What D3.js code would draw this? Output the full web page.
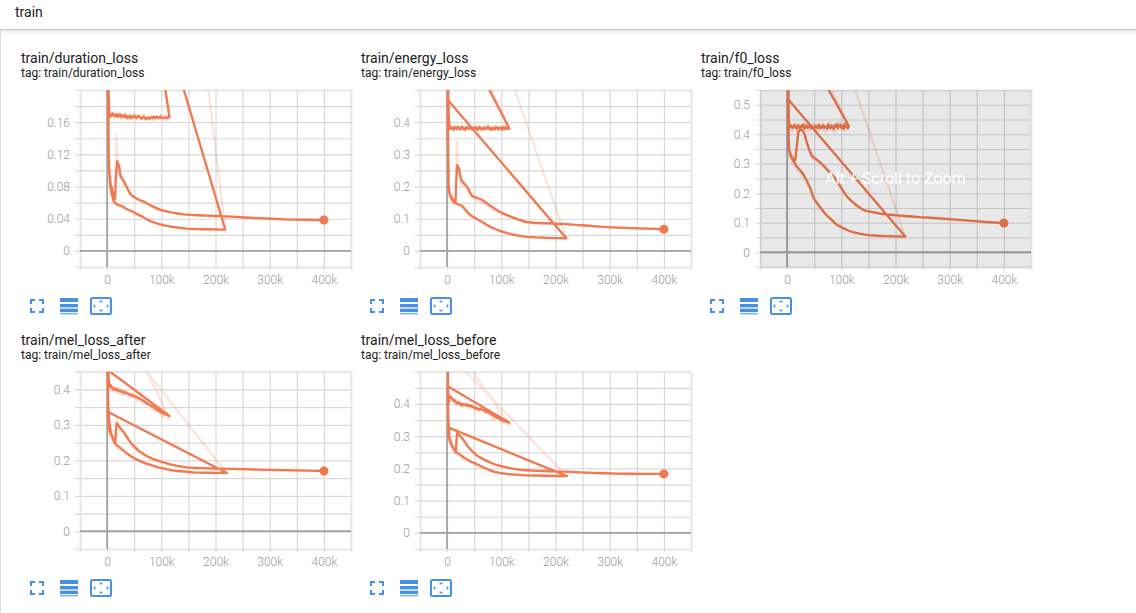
<!DOCTYPE html>
<html>
<head>
<meta charset="utf-8">
<script src="https://cdn.jsdelivr.net/npm/d3@7"></script>
<style>
html,body{margin:0;padding:0;background:#fff;overflow:hidden}
svg{display:block}
text{font-family:Roboto,"Liberation Sans",sans-serif}
</style>
</head>
<body>
<svg id="c" width="1136" height="613"></svg>
<script>
const pageTitle = "train";
const xGrid = [-50,0,50,100,150,200,250,300,350,400,450];
const xLabels = [0,100,200,300,400];

// [step in thousands, loss]. Smoothed line, three training runs in log order.
const durationLine = [[1,.7],[2,.26],[3,.19],[4,.172],[6,.167],[8,.169],[10,.171],[12,.168],[14,.169],[16,.167],[18,.17],[20,.167],[22,.168],[24,.17],[26,.166],[28,.168],[30,.167],[32,.169],[34,.166],[36,.168],[38,.165],[40,.167],[42,.168],[44,.165],[46,.166],[48,.168],[50,.166],[52,.167],[54,.165],[56,.167],[58,.168],[60,.166],[62,.166],[64,.164],[66,.166],[68,.167],[70,.165],[72,.164],[74,.166],[76,.165],[78,.164],[80,.166],[82,.166],[84,.165],[86,.167],[88,.165],[90,.166],[92,.167],[94,.165],[96,.166],[98,.167],[100,.165],[102,.166],[104,.166],[106,.165],[108,.166],[110,.165],[112,.166],[115,.166],
 [1,.69],[2,.2],[3,.12],[4,.098],[6,.08],[9,.07],[12,.062],[15,.0595],[18,.058],[22,.0565],[27,.0558],[30,.0545],[33,.053],[38,.0515],[45,.0496],[50,.0478],[55,.046],[61,.044],[67,.042],[73,.0395],[80,.037],[88,.035],[98,.033],[108,.0315],[120,.03],[133,.0288],[147,.0277],[165,.0272],[184,.0269],[200,.0267],[218,.0265],
 [1,.52],[2,.2],[3,.12],[4,.1],[6,.085],[9,.078],[12,.068],[14.8,.065],[16,.09],[18.5,.1116],[20,.109],[22,.106],[25,.0926],[28,.09],[31,.0868],[35,.081],[38,.077],[42,.072],[45.5,.069],[50,.067],[55,.065],[61,.063],[67,.0616],[74,.059],[82,.056],[90,.0535],[98,.0513],[108,.0495],[118,.048],[130,.0465],[141,.0455],[155,.0448],[170,.0443],[185,.0438],[202,.0434],[220,.0428],[239,.0422],[255,.0415],[270,.041],[290,.0405],[307,.04],[330,.0393],[350,.039],[375,.0387],[400,.0384]];
const durationRaw = [[1,.9],[2,.3],[3,.2],[4,.175],[6,.171],[8,.165],[11,.173],[13,.164],[16,.172],[19,.166],[22,.171],[24,.164],[27,.17],[30,.163],[33,.172],[37,.165],[40,.163],[43,.17],[47,.164],[51,.171],[55,.163],[59,.169],[63,.165],[67,.17],[71,.162],[75,.168],[80,.169],[85,.162],[90,.168],[95,.164],[100,.17],[104,.163],[108,.169],[112,.163],[115,.166],
 [1,.72],[2,.2],[3,.11],[4,.09],[6,.074],[10,.064],[15,.058],[27,.057],[45,.048],[67,.041],[98,.032],[147,.027],[184,.027],[218,.026],
 [1,1.24],[2,.22],[3,.11],[5,.085],[8,.07],[12,.06],[15,.06],[17,.145],[20,.1],[25,.09],[31,.083],[45,.067],[67,.06],[98,.05],[141,.045],[202,.043],[270,.04],[340,.039],[400,.038]];
const durationGrid = [-.02,0,.02,.04,.06,.08,.1,.12,.14,.16,.18,.2];
const durationLabels = [0,.04,.08,.12,.16];

const energyLine = [[1,.95],[2,.5],[3,.42],[4,.39],[6,.379],[8,.384],[10,.381],[12,.376],[14,.385],[16,.381],[18,.379],[20,.386],[22,.38],[24,.377],[26,.383],[28,.386],[30,.378],[32,.381],[34,.376],[36,.385],[38,.382],[40,.379],[42,.384],[44,.381],[46,.377],[48,.383],[50,.378],[52,.385],[54,.38],[56,.376],[58,.383],[60,.386],[62,.379],[64,.381],[66,.377],[68,.384],[70,.38],[72,.378],[74,.385],[76,.387],[78,.379],[80,.382],[82,.376],[84,.383],[86,.38],[88,.377],[90,.385],[92,.382],[94,.378],[96,.384],[98,.38],[100,.383],[102,.377],[104,.385],[106,.379],[108,.384],[110,.378],[112,.382],[115,.38],
 [1,.75],[2,.3],[3,.2],[5,.175],[9,.16],[14,.15],[20,.145],[25,.142],[28,.14],[34,.128],[40,.116],[46,.108],[52,.102],[58,.096],[65,.09],[72,.082],[80,.074],[89,.068],[98,.062],[109,.056],[120,.051],[133,.047],[148,.0436],[165,.0418],[185,.0405],[200,.04],[220,.0394],
 [1,.47],[2,.3],[3,.2],[4,.182],[7,.17],[11,.16],[15.5,.155],[17,.22],[18.5,.2666],[20,.262],[22,.256],[24,.236],[26,.22],[31,.21],[37,.2],[42,.183],[46,.171],[50,.168],[55,.165],[60,.162],[65,.158],[72,.15],[80,.14],[89,.13],[98,.121],[108,.113],[120,.105],[132,.097],[145,.09],[160,.0875],[180,.086],[200,.0845],[221,.083],[238,.081],[255,.079],[272,.0768],[289,.0747],[315,.0725],[340,.071],[370,.069],[400,.0674]];
const energyRaw = [[1,1.1],[2,.55],[3,.42],[4,.385],[6,.375],[9,.39],[11,.376],[13,.374],[15,.388],[17,.39],[20,.376],[22,.375],[25,.389],[27,.39],[30,.376],[33,.373],[36,.388],[40,.39],[44,.375],[48,.374],[52,.389],[56,.39],[60,.376],[64,.373],[68,.387],[72,.392],[76,.375],[80,.374],[85,.388],[90,.388],[95,.376],[100,.374],[104,.388],[108,.39],[112,.376],[115,.38],
 [1,.8],[2,.3],[3,.19],[5,.165],[9,.15],[14,.145],[28,.135],[40,.11],[65,.09],[98,.06],[148,.043],[185,.04],[220,.039],
 [1,1.1],[2,.32],[3,.19],[5,.165],[8,.155],[12,.15],[15.5,.15],[18,.34],[21,.25],[26,.21],[37,.19],[46,.165],[65,.15],[98,.115],[145,.087],[221,.082],[289,.073],[400,.067]];
const energyGrid = [-.05,0,.05,.1,.15,.2,.25,.3,.35,.4,.45,.5];
const energyLabels = [0,.1,.2,.3,.4];

const f0Line = [[1,.95],[2,.62],[3,.45],[4,.422],[6,.424],[8,.43],[10,.421],[12,.426],[14,.432],[16,.424],[18,.42],[20,.43],[22,.426],[24,.418],[26,.429],[28,.424],[30,.433],[32,.419],[34,.425],[36,.43],[38,.421],[40,.426],[42,.432],[44,.42],[46,.427],[48,.424],[50,.418],[52,.43],[54,.425],[56,.42],[58,.433],[60,.427],[62,.419],[64,.425],[66,.431],[68,.421],[70,.428],[72,.423],[74,.418],[76,.434],[78,.424],[80,.42],[82,.43],[84,.426],[86,.417],[88,.431],[90,.425],[92,.435],[94,.42],[96,.427],[98,.432],[100,.421],[102,.428],[104,.418],[106,.436],[108,.424],[110,.43],[112,.42],[114,.427],
 [1,.8],[2,.5],[3,.38],[4,.345],[6,.33],[10,.315],[15,.3],[18,.29],[22,.282],[27,.272],[31,.262],[34,.25],[37,.24],[40,.228],[43,.217],[46,.198],[49,.183],[53,.172],[57,.162],[62,.15],[67,.138],[73,.125],[80,.114],[86,.103],[92,.093],[99,.086],[107,.079],[115,.072],[123,.067],[136,.062],[150,.058],[168,.056],[185,.055],[200,.054],[218,.053],
 [1,.52],[2,.45],[3,.38],[4,.345],[7,.33],[11,.315],[15,.313],[18,.36],[21,.41],[24,.415],[27.5,.415],[32,.403],[36,.375],[40,.353],[43,.338],[46,.326],[50,.32],[54,.315],[59,.308],[64,.3],[70,.288],[76,.276],[82,.264],[89,.25],[94,.235],[100,.218],[105,.203],[110,.19],[118,.175],[126,.162],[135,.15],[144,.141],[155,.137],[170,.132],[185,.128],[205,.125],[225,.122],[245,.119],[264,.117],[300,.112],[330,.108],[365,.103],[400,.099]];
const f0Raw = [[1,1.1],[2,.65],[3,.45],[4,.415],[6,.435],[9,.41],[11,.43],[13,.435],[15,.414],[17,.412],[20,.434],[22,.436],[25,.411],[27,.41],[30,.436],[33,.438],[36,.412],[40,.41],[44,.436],[48,.437],[52,.412],[56,.411],[60,.436],[64,.438],[68,.412],[72,.41],[76,.438],[80,.44],[85,.41],[90,.41],[95,.44],[100,.44],[104,.413],[108,.412],[111,.44],[114,.427],
 [1,.87],[2,.5],[3,.36],[5,.32],[10,.3],[15,.29],[31,.255],[43,.21],[67,.134],[92,.09],[123,.065],[150,.057],[218,.052],
 [1,1.22],[2,.46],[3,.36],[5,.325],[9,.305],[15,.3],[18,.38],[21,.42],[27.5,.42],[40,.345],[46,.32],[64,.295],[89,.245],[110,.185],[144,.14],[185,.126],[264,.116],[400,.098]];
const f0Grid = [-.05,0,.05,.1,.15,.2,.25,.3,.35,.4,.45,.5,.55];
const f0Labels = [0,.1,.2,.3,.4,.5];

const melAfterLine = [[1,.62],[2,.46],[3,.43],[4,.415],[5.5,.407],[7,.412],[9,.405],[11,.4],[13,.403],[15,.398],[17,.402],[19,.397],[21,.399],[23,.394],[25,.397],[27,.393],[29,.395],[31,.39],[34,.392],[36,.388],[38,.389],[40,.386],[42,.387],[44,.383],[46,.385],[48,.381],[50,.382],[53,.378],[55,.379],[57,.375],[59,.376],[61,.372],[63,.372],[65,.368],[67,.369],[69,.364],[71,.365],[73,.36],[75,.36],[77,.357],[79,.357],[81,.353],[84,.352],[86,.349],[88,.347],[90,.344],[92,.344],[94,.34],[96,.34],[98,.336],[100,.337],[102,.333],[104,.333],[106,.33],[108,.331],[110,.328],[112,.328],[115,.325],
 [1,.455],[2,.36],[4,.31],[7,.28],[11,.26],[15,.247],[18,.243],[22,.238],[26,.233],[30,.228],[35,.222],[40,.216],[44,.212],[49,.207],[55,.202],[62,.197],[70,.192],[79,.188],[87,.184],[95,.18],[102,.178],[110,.175],[120,.172],[130,.17],[145,.168],[159,.166],[175,.1655],[190,.165],[205,.1648],[221,.1645],
 [1,.337],[3,.3],[5,.28],[9,.268],[12,.258],[15,.252],[16.5,.285],[17.7,.3046],[21,.298],[25,.29],[29,.283],[33,.275],[39,.26],[45.5,.247],[49,.241],[53,.235],[57,.229],[61,.224],[68,.217],[75,.211],[83,.205],[92,.2],[105,.194],[118,.188],[132,.184],[147,.18],[160,.179],[175,.178],[190,.1775],[202,.177],[225,.176],[250,.175],[280,.174],[307,.173],[330,.1725],[350,.172],[375,.171],[400,.17]];
const melAfterRaw = [[1,.7],[2,.48],[3,.43],[4,.41],[6,.418],[9,.395],[11,.41],[13,.405],[16,.39],[18,.39],[21,.405],[24,.4],[27,.385],[30,.383],[33,.398],[37,.393],[40,.378],[44,.376],[47,.39],[51,.384],[55,.367],[58,.368],[62,.38],[65,.377],[69,.357],[72,.355],[76,.368],[80,.362],[84,.342],[88,.338],[92,.35],[96,.345],[100,.325],[104,.322],[107,.338],[110,.336],[113,.315],[115,.318],
 [1,.68],[2,.37],[4,.3],[7,.27],[11,.25],[15,.24],[30,.222],[49,.203],[79,.185],[110,.172],[159,.164],[221,.163],
 [1,.59],[3,.29],[5,.27],[9,.255],[15,.245],[17.7,.32],[25,.285],[33,.27],[45.5,.24],[61,.22],[92,.197],[147,.178],[202,.175],[307,.172],[400,.169]];
const melAfterGrid = [-.05,0,.05,.1,.15,.2,.25,.3,.35,.4,.45];
const melAfterLabels = [0,.1,.2,.3,.4];

const melBeforeLine = [[1,.62],[2,.43],[3,.4],[4,.42],[6,.423],[8,.42],[10,.414],[12,.408],[14,.412],[16,.406],[18,.402],[20,.405],[22,.4],[24,.402],[26,.396],[28,.4],[30,.397],[33,.398],[35,.395],[37,.398],[39,.394],[41,.396],[43,.392],[45,.394],[47,.39],[49,.391],[51,.386],[53,.389],[55,.385],[58,.386],[60,.382],[62,.385],[64,.382],[66,.382],[68,.379],[70,.379],[72,.375],[74,.376],[76,.373],[78,.372],[80,.368],[82,.369],[84,.365],[86,.364],[88,.36],[90,.36],[92,.357],[94,.357],[96,.354],[98,.353],[100,.35],[102,.35],[104,.348],[106,.347],[108,.345],[110,.345],[112,.343],[115,.342],
 [1,.455],[2,.36],[4,.3],[7,.28],[11,.265],[15,.252],[18,.249],[22,.245],[26,.24],[31,.234],[36,.229],[41,.224],[46,.22],[52,.2155],[60,.209],[68,.203],[77,.196],[86,.19],[97,.186],[110,.183],[125,.181],[141,.179],[165,.178],[191,.177],[205,.1765],[221,.176],
 [1,.328],[3,.3],[5,.285],[9,.27],[13,.26],[16,.255],[17.3,.285],[18.5,.309],[23,.302],[28,.293],[32,.285],[37,.272],[41,.263],[46,.254],[50,.248],[55,.24],[60,.235],[65,.231],[72,.224],[80,.218],[89,.212],[98,.208],[108,.204],[118,.2],[130,.197],[141,.195],[160,.193],[180,.192],[200,.191],[221,.19],[245,.188],[270,.186],[290,.185],[314,.184],[340,.1835],[360,.183],[380,.183],[400,.183]];
const melBeforeRaw = [[1,.75],[2,.45],[3,.4],[4,.425],[6,.43],[9,.41],[11,.42],[13,.415],[16,.395],[18,.395],[21,.41],[24,.41],[27,.39],[30,.39],[33,.405],[37,.403],[40,.388],[44,.386],[47,.397],[51,.395],[55,.377],[58,.375],[62,.392],[65,.39],[69,.372],[72,.37],[76,.38],[80,.378],[84,.354],[88,.352],[92,.367],[96,.365],[100,.342],[104,.34],[107,.354],[110,.352],[113,.333],[115,.335],
 [1,.615],[2,.37],[4,.29],[7,.27],[11,.255],[15,.245],[31,.23],[52,.21],[86,.187],[141,.177],[221,.175],
 [1,.56],[3,.29],[5,.275],[9,.26],[16,.25],[18.5,.32],[28,.29],[46,.25],[65,.228],[98,.205],[141,.193],[221,.188],[314,.183],[400,.182]];
const melBeforeGrid = [-.05,0,.05,.1,.15,.2,.25,.3,.35,.4,.45,.5];
const melBeforeLabels = [0,.1,.2,.3,.4];

const names = ["train/duration_loss","train/energy_loss","train/f0_loss","train/mel_loss_after","train/mel_loss_before"];
const yDomains = [[-.02,.2],[-.05,.5],[-.05,.55],[-.05,.45],[-.05,.5]];
const lines = [durationLine,energyLine,f0Line,melAfterLine,melBeforeLine];
const raws = [durationRaw,energyRaw,f0Raw,melAfterRaw,melBeforeRaw];
const grids = [durationGrid,energyGrid,f0Grid,melAfterGrid,melBeforeGrid];
const labels = [durationLabels,energyLabels,f0Labels,melAfterLabels,melBeforeLabels];
const hoveredPanel = 2;
const hoverText = "Alt + Scroll to Zoom";

const svg = d3.select("#c");
const orange = "#f1784f", blue = "#4690ea";

// page chrome
svg.append("rect").attr("x",0).attr("y",30).attr("width",1).attr("height",583).attr("fill","#e4e4e4");
const sh = svg.append("defs").append("linearGradient").attr("id","sh").attr("x1",0).attr("x2",0).attr("y1",0).attr("y2",1);
sh.append("stop").attr("offset",0).attr("stop-color","#000").attr("stop-opacity",.07);
sh.append("stop").attr("offset",1).attr("stop-color","#000").attr("stop-opacity",0);
svg.append("rect").attr("x",0).attr("y",30).attr("width",1136).attr("height",6).attr("fill","url(#sh)");
svg.append("rect").attr("x",0).attr("y",29).attr("width",1136).attr("height",1.2).attr("fill","#c9c9c9");
svg.append("text").attr("x",15).attr("y",17).attr("font-size",14).attr("fill","#222").text(pageTitle);

names.forEach((name,i)=>{
  const col = i%3, row = Math.floor(i/3);
  const left = 80+340*col, w = 271;
  const top = row? 371.7:90, h = row? 177.3:177;
  const ox = 340*col, oy = row? 282:0;
  const g = svg.append("g");
  g.append("text").attr("x",21+ox).attr("y",row?345:63).attr("font-size",14).attr("fill","#212121").text(name);
  g.append("text").attr("x",21+ox).attr("y",row?359:77).attr("font-size",12).attr("fill","#212121").text("tag: "+name);

  const x = d3.scaleLinear().domain([-50,450]).range([left,left+w]);
  const y = d3.scaleLinear().domain(yDomains[i]).range([top+h,top]);

  const gh = g.append("g").attr("transform",`translate(${left+w},0)`)
    .call(d3.axisLeft(y).tickValues(grids[i]).tickSize(w+5).tickFormat(""));
  const gv = g.append("g").attr("transform",`translate(0,${top})`)
    .call(d3.axisBottom(x).tickValues(xGrid).tickSize(h+3).tickFormat(""));
  [gh,gv].forEach(a=>{a.select(".domain").remove();a.selectAll("line").attr("stroke","#d9d9d9").attr("stroke-width",1.2);});
  gh.selectAll("line").filter(d=>d===yDomains[i][1]||d===yDomains[i][0]).attr("stroke","#e8e8e8").attr("stroke-width",2.2);
  gv.selectAll("line").filter(d=>d===-50||d===450).attr("stroke","#e4e4e4").attr("stroke-width",2);

  const zero = g.append("g");
  zero.append("line").attr("x1",left).attr("x2",left+w).attr("y1",y(0)).attr("y2",y(0)).attr("stroke","#a4a4a4").attr("stroke-width",1.8);
  zero.append("line").attr("x1",x(0)).attr("x2",x(0)).attr("y1",top).attr("y2",top+h).attr("stroke","#a4a4a4").attr("stroke-width",1.8);

  const ly = g.append("g").attr("transform",`translate(${left},0)`)
    .call(d3.axisLeft(y).tickValues(labels[i]).tickSize(0).tickPadding(10).tickFormat(d=>d===0?"0":String(d)));
  const lx = g.append("g").attr("transform",`translate(0,${top+h})`)
    .call(d3.axisBottom(x).tickValues(xLabels).tickSize(0).tickPadding(8).tickFormat(d=>d===0?"0":d+"k"));
  [ly,lx].forEach(a=>{a.select(".domain").remove();a.selectAll("text").attr("font-family","Roboto,sans-serif").attr("font-size",12).attr("font-weight",300).attr("fill","#999");});

  const id = "clip"+i;
  svg.select("defs").append("clipPath").attr("id",id).append("rect").attr("x",left).attr("y",top).attr("width",w).attr("height",h);
  const path = d3.line().x(d=>x(d[0])).y(d=>y(d[1]));
  const plot = g.append("g").attr("clip-path",`url(#${id})`);
  plot.append("path").datum(raws[i]).attr("d",path).attr("fill","none").attr("stroke",orange).attr("stroke-width",2.2).attr("stroke-opacity",.2).attr("stroke-linejoin","round");
  plot.append("path").datum(lines[i]).attr("d",path).attr("fill","none").attr("stroke",orange).attr("stroke-width",2.3).attr("stroke-linejoin","round");
  const last = lines[i][lines[i].length-1];
  plot.append("circle").attr("cx",x(last[0])).attr("cy",y(last[1])).attr("r",4.5).attr("fill",orange);

  if(i===hoveredPanel){
    g.append("rect").attr("x",left).attr("y",top).attr("width",w).attr("height",h+1).attr("fill","#000").attr("fill-opacity",.09);
    g.append("text").attr("x",left+135.5).attr("y",top+93.5).attr("text-anchor","middle").attr("font-size",16).attr("fill","#fff").text(hoverText);
  }

  // toolbar icons
  const ic = g.append("g").attr("transform",`translate(${ox},${oy})`);
  const corner = "M31 304V300H35 M39 300H43V304 M43 308V312H39 M35 312H31V308";
  ic.append("path").attr("d",corner).attr("fill","none").attr("stroke",blue).attr("stroke-width",2);
  [[298,4],[304,3.4],[308.7,3.4],[313.3,1]].forEach(b=>ic.append("rect").attr("x",60).attr("y",b[0]).attr("width",18).attr("height",b[1]).attr("fill",blue));
  ic.append("rect").attr("x",91).attr("y",298).attr("width",20).attr("height",16).attr("rx",1.5).attr("fill","none").attr("stroke",blue).attr("stroke-width",2);
  ["M99.5 302H102.5L101 300.5Z","M99.5 310H102.5L101 311.5Z","M95 304.5V307.5L93.5 306Z","M107 304.5V307.5L108.5 306Z"]
    .forEach(d=>ic.append("path").attr("d",d).attr("fill",blue).attr("stroke",blue).attr("stroke-width",.6));
});
</script>
</body>
</html>
